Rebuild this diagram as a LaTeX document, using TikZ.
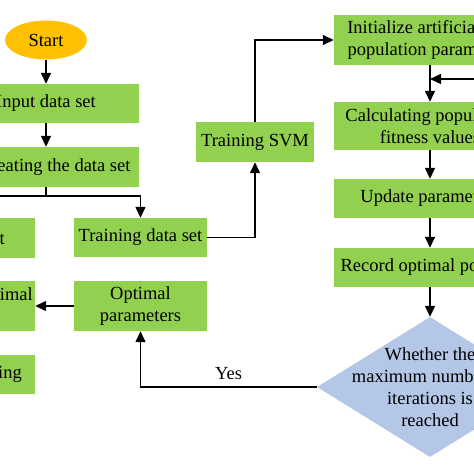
\documentclass[tikz,border=0pt]{standalone}
\usepackage{fontspec}
\setmainfont{Liberation Serif}
\usetikzlibrary{shapes.geometric,arrows.meta}
\definecolor{boxgreen}{RGB}{146,208,80}
\definecolor{startorange}{RGB}{255,192,0}
\definecolor{diablue}{RGB}{180,199,231}
\tikzset{
  gbox/.style={rectangle,fill=boxgreen,inner sep=0pt,align=center,text=black},
  conn/.style={line width=1.4pt,black},
  arr/.style={conn,-{Triangle[length=11pt,width=10pt]}},
  decision/.style={diamond,fill=diablue,inner sep=0pt,minimum width=226pt,minimum height=140pt},
  plain/.style={inner sep=0pt,align=center}
}
\begin{document}
\begin{tikzpicture}[x=1pt,y=-1pt,font=\fontsize{18.5}{22}\selectfont]
\useasboundingbox (0,0) rectangle (474,474);
\fill[white] (0,0) rectangle (474,474);
\clip (0,0) rectangle (474,474);
% left column
\node[ellipse,fill=startorange,minimum width=82pt,minimum height=39pt,inner sep=0pt] (start) at (46,40) {Start};
\node[gbox,minimum width=186pt,minimum height=39pt] (input) at (46,103.5) {Input data set};
\node[gbox,minimum width=186pt,minimum height=40pt] (pre) at (46,167) {Pretreating the data set};
\node[gbox,minimum width=150pt,minimum height=40pt] (test) at (-40,238) {};
\node[plain,anchor=east] (testt) at (5,238) {Test data set};
\node[gbox,minimum width=150pt,minimum height=50pt] (svmopt) at (-40,306) {};
\node[plain,anchor=east] (svmoptt) at (33,296) {SVM with optimal};
\node[gbox,minimum width=150pt,minimum height=39pt] (mtest) at (-40,374.5) {};
\node[plain,anchor=east] (mtestt) at (22,374.5) {Model testing};
% middle
\node[gbox,minimum width=133pt,minimum height=39pt] (train) at (140.5,237.5) {Training data set};
\node[gbox,minimum width=133pt,minimum height=50pt] (optp) at (140.5,306) {Optimal\\parameters};
\node[gbox,minimum width=118pt,minimum height=40pt] (svm) at (255,142) {Training SVM};
% right column
\node[gbox,minimum width=192pt,minimum height=50pt] (init) at (430,40) {Initialize artificial fish\\population parameters};
\node[gbox,minimum width=192pt,minimum height=48pt] (calc) at (430,126) {Calculating population\\fitness values};
\node[gbox,minimum width=192pt,minimum height=39pt] (upd) at (430,198.5) {Update parameters};
\node[gbox,minimum width=192pt,minimum height=39pt] (rec) at (430,267.5) {Record optimal position};
\node[decision] (dia) at (430,387) {};
\node[plain] (diat) at (430,387) {Whether the\\maximum number of\\iterations is\\reached};
\coordinate (fb) at (490,79);
% connectors
\draw[arr] (start) -- (input);
\draw[arr] (input) -- (pre);
\draw[conn] (pre.south) -- (46,196) coordinate (split);
\draw[conn] (split) -| (test.north);
\draw[arr] (split) -| (train.north);
\draw[arr] (train.east) -| (svm.south);
\draw[arr] (svm.north) |- (init.west);
\draw[arr] (init) -- (calc);
\draw[arr] (fb) -- (fb -| init.south);
\draw[arr] (calc) -- (upd);
\draw[arr] (upd) -- (rec);
\draw[arr] (rec) -- (dia.north);
\draw[arr] (dia.west) -| node[pos=0.25,above=7pt,plain] (yes) {Yes} (optp.south);
\draw[arr] (optp.west) -- (svmopt.east);
\end{tikzpicture}
\end{document}
